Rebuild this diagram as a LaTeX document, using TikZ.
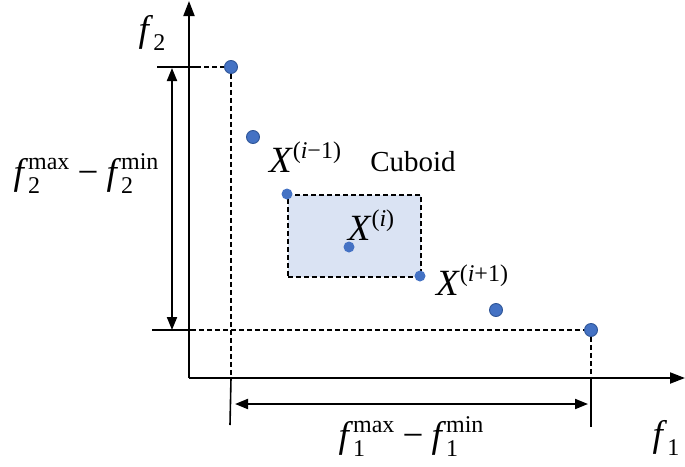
\documentclass[tikz,border=0pt]{standalone}
\usepackage{fontspec}
\setmainfont{Liberation Serif}
\usetikzlibrary{arrows.meta}
\definecolor{dotblue}{HTML}{4472C4}
\definecolor{dotedge}{HTML}{2F5597}
\definecolor{cubfill}{HTML}{DAE3F3}
\newcommand\mysupsub[2]{\begingroup\fontsize{24}{28}\selectfont\setbox0\hbox{\raisebox{0.6em}{#1}}\setbox2\hbox{\raisebox{-0.4em}{#2}}\ifdim\wd0>\wd2 \rlap{\box2}\box0\else\rlap{\box0}\box2\fi\endgroup}
\newcommand\mysup[1]{{\fontsize{24}{28}\selectfont\raisebox{0.6em}{#1}}}
\newcommand\mysub[1]{{\fontsize{24}{28}\selectfont\raisebox{-0.4em}{#1}}}
\newcommand\mymin{\hspace{0.22em}−\hspace{0.22em}}
\tikzset{
  big/.style={font=\fontsize{37}{44}\selectfont, inner sep=0pt},
  dotbig/.style={circle, fill=dotblue, draw=dotedge, line width=0.9pt, inner sep=0pt, minimum size=13pt},
  dotsmall/.style={circle, fill=dotblue, inner sep=0pt, minimum size=11pt},
  axis/.style={line width=2pt, -{Triangle[length=15pt,width=11pt]}},
  dim/.style={line width=2pt, {Triangle[length=13pt,width=10pt]}-{Triangle[length=13pt,width=10pt]}},
  guide/.style={line width=1.5pt, dash pattern=on 5pt off 3pt},
  tick/.style={line width=1.6pt},
}
\begin{document}
\begin{tikzpicture}[x=1pt,y=-1pt]
\useasboundingbox (0,0) rectangle (685,466);
% cuboid
\node[draw=black, guide, fill=cubfill, minimum width=133pt, minimum height=82pt, inner sep=0pt, anchor=north west] (cub) at (287,194) {};
% coordinates
\coordinate (O) at (189,378);
\coordinate (ytop) at (189,1);
\coordinate (xend) at (685,378);
% axes
\draw[axis] (O) -- (ytop);
\draw[axis] (O) -- (xend);
% points
\node[dotbig] (p1) at (231,67) {};
\node[dotbig] (p2) at (253,137) {};
\node[dotsmall] (p3) at (287,194) {};
\node[dotsmall] (p4) at (349,247) {};
\node[dotsmall] (p5) at (420,276) {};
\node[dotbig] (p6) at (496,310) {};
\node[dotbig] (p7) at (591,330) {};
% guide lines
\coordinate (ht1) at (157,67);
\coordinate (ht2) at (196,67);
\coordinate (hb1) at (152,330);
\coordinate (hb2) at (191,330);
\coordinate (vl1) at (231,378);
\coordinate (vl2) at (230,425);
\coordinate (vr1) at (591,378);
\coordinate (vr2) at (591,427);
\draw[tick] (ht1) -- (ht2);
\draw[guide] (ht2) -- (p1.west);
\draw[tick] (hb1) -- (hb2);
\draw[guide] (hb2) -- (p7.west);
\draw[guide] (p1.south) -- (vl1);
\draw[tick] (vl1) -- (vl2);
\draw[guide] (p7.south) -- (vr1);
\draw[tick] (vr1) -- (vr2);
% dimension arrows
\coordinate (da1) at (172,68);
\coordinate (da2) at (172,330);
\draw[dim] (da1) -- (da2);
\coordinate (db1) at (235,404);
\coordinate (db2) at (588,404);
\draw[dim] (db1) -- (db2);
% labels
\node[big] (lf2) at (152,33) {\textit{f}\mysub{2}};
\node[big] (lf1) at (666,438) {\textit{f}\mysub{1}};
\node[big] (ld2) at (86,174) {\textit{f}\mysupsub{max}{2}\mymin\textit{f}\mysupsub{min}{2}};
\node[big] (ld1) at (411,437) {\textit{f}\mysupsub{max}{1}\mymin\textit{f}\mysupsub{min}{1}};
\node[big] (lx3) at (305,157) {\textit{X}\mysup{(\textit{i}−1)}};
\node[inner sep=0pt, font=\fontsize{29}{34}\selectfont] (lcub) at (413,162) {Cuboid};
\node[big] (lx4) at (371,225) {\textit{X}\mysup{(\textit{i})}};
\node[big] (lx5) at (472,280) {\textit{X}\mysup{(\textit{i}+1)}};
\end{tikzpicture}
\end{document}
